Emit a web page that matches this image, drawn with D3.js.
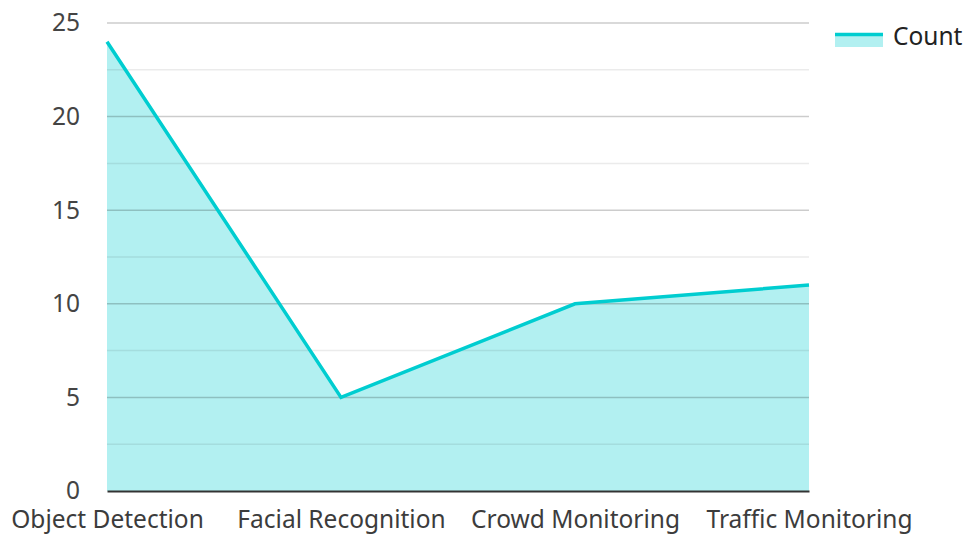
<!DOCTYPE html>
<html>
<head>
<meta charset="utf-8">
<script src="https://cdn.jsdelivr.net/npm/d3@7"></script>
<style>
  body { margin: 0; background: #fff; }
  text { font-family: "Noto Sans", "Open Sans", sans-serif; }
</style>
</head>
<body>
<svg id="chart"></svg>
<script>
const categories = ["Object Detection", "Facial Recognition", "Crowd Monitoring", "Traffic Monitoring"];
const counts = [24, 5, 10, 11];
const yTicks = [0, 5, 10, 15, 20, 25];
const yMinorTicks = [2.5, 7.5, 12.5, 17.5, 22.5];
const seriesName = "Count";

const width = 967;
const height = 534;
const margin = { top: 23, right: 158, bottom: 43, left: 107 };

const lineColor = "#00cdd0";

const svg = d3.select("#chart")
    .attr("width", width)
    .attr("height", height);

// 스케일
const xScale = d3.scalePoint()
    .domain(categories)
    .range([margin.left, width - margin.right]);

const yScale = d3.scaleLinear()
    .domain([0, 25])
    .range([height - margin.bottom, margin.top]);

// 영역
const area = d3.area()
    .x((d, i) => xScale(categories[i]))
    .y0(yScale(0))
    .y1(d => yScale(d));

svg.append("path")
    .datum(counts)
    .attr("d", area)
    .attr("fill", lineColor)
    .attr("fill-opacity", 0.3);

// 그리드
svg.append("g")
    .selectAll("line")
    .data(yMinorTicks)
    .enter()
    .append("line")
    .attr("x1", margin.left)
    .attr("x2", width - margin.right)
    .attr("y1", d => yScale(d))
    .attr("y2", d => yScale(d))
    .attr("stroke", "#000")
    .attr("stroke-opacity", 0.08)
    .attr("stroke-width", 1.5);

svg.append("g")
    .selectAll("line")
    .data(yTicks.filter(d => d > 0))
    .enter()
    .append("line")
    .attr("x1", margin.left)
    .attr("x2", width - margin.right)
    .attr("y1", d => yScale(d))
    .attr("y2", d => yScale(d))
    .attr("stroke", "#000")
    .attr("stroke-opacity", 0.2)
    .attr("stroke-width", 1.5);

// 선
const line = d3.line()
    .x((d, i) => xScale(categories[i]))
    .y(d => yScale(d));

svg.append("path")
    .datum(counts)
    .attr("d", line)
    .attr("fill", "none")
    .attr("stroke", lineColor)
    .attr("stroke-width", 3.5)
    .attr("stroke-linejoin", "miter");

// X축
const xAxis = svg.append("g")
    .attr("transform", `translate(0,${yScale(0)})`)
    .call(d3.axisBottom(xScale).tickSize(0).tickPadding(20));
xAxis.select(".domain").attr("stroke", "#333").attr("stroke-width", 2);
xAxis.selectAll("text")
    .attr("fill", "#3c3c3c")
    .style("font-size", "24.5px");

// Y축
const yAxis = svg.append("g")
    .attr("transform", `translate(${margin.left},0)`)
    .call(d3.axisLeft(yScale).tickValues(yTicks).tickSize(0).tickPadding(27));
yAxis.select(".domain").remove();
yAxis.selectAll("text")
    .attr("fill", "#444")
    .style("font-size", "24.5px");

// 범례
const legend = svg.append("g").attr("transform", "translate(835,36)");
legend.append("rect")
    .attr("x", 0).attr("y", -3)
    .attr("width", 48).attr("height", 14)
    .attr("fill", lineColor).attr("fill-opacity", 0.3);
legend.append("line")
    .attr("x1", 0).attr("x2", 48)
    .attr("y1", -1.5).attr("y2", -1.5)
    .attr("stroke", lineColor)
    .attr("stroke-width", 3.5);
legend.append("text")
    .attr("x", 58).attr("y", 0)
    .attr("dy", "0.35em")
    .attr("fill", "#222")
    .style("font-size", "24.5px")
    .text(seriesName);
</script>
</body>
</html>
